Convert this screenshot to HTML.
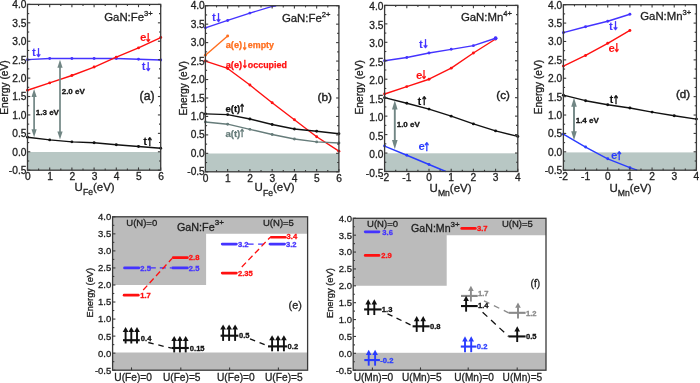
<!DOCTYPE html>
<html><head><meta charset="utf-8"><title>GaN energy levels</title>
<style>html,body{margin:0;padding:0;background:#fff;}svg{display:block;} text{paint-order:stroke;}</style></head>
<body><svg width="700" height="383" viewBox="0 0 700 383" font-family="'Liberation Sans', Arial, sans-serif">
<rect width="700" height="383" fill="#fff"/>
<rect x="27.5" y="152" width="133.2" height="18.2" fill="#b8c7c4"/>
<polyline points="27.5,59.67 49.7,58.56 71.9,58.56 94.1,58.56 116.3,58.56 138.5,59.3 160.7,60.04" fill="none" stroke="#4433ff" stroke-width="1.4" stroke-linejoin="round" />
<circle cx="27.5" cy="59.67" r="1.45" fill="#4433ff"/>
<circle cx="49.7" cy="58.56" r="1.45" fill="#4433ff"/>
<circle cx="71.9" cy="58.56" r="1.45" fill="#4433ff"/>
<circle cx="94.1" cy="58.56" r="1.45" fill="#4433ff"/>
<circle cx="116.3" cy="58.56" r="1.45" fill="#4433ff"/>
<circle cx="138.5" cy="59.3" r="1.45" fill="#4433ff"/>
<circle cx="160.7" cy="60.04" r="1.45" fill="#4433ff"/>
<polyline points="27.5,90.25 49.7,82.88 71.9,75.51 94.1,67.04 116.3,57.09 138.5,47.88 160.7,37.56" fill="none" stroke="#ff1010" stroke-width="1.4" stroke-linejoin="round" />
<circle cx="27.5" cy="90.25" r="1.45" fill="#ff1010"/>
<circle cx="49.7" cy="82.88" r="1.45" fill="#ff1010"/>
<circle cx="71.9" cy="75.51" r="1.45" fill="#ff1010"/>
<circle cx="94.1" cy="67.04" r="1.45" fill="#ff1010"/>
<circle cx="116.3" cy="57.09" r="1.45" fill="#ff1010"/>
<circle cx="138.5" cy="47.88" r="1.45" fill="#ff1010"/>
<circle cx="160.7" cy="37.56" r="1.45" fill="#ff1010"/>
<polyline points="27.5,137.22 49.7,139.91 71.9,141.83 94.1,142.82 116.3,144.7 138.5,146.51 160.7,148.2" fill="none" stroke="#111111" stroke-width="1.4" stroke-linejoin="round" />
<circle cx="27.5" cy="137.22" r="1.45" fill="#111111"/>
<circle cx="49.7" cy="139.91" r="1.45" fill="#111111"/>
<circle cx="71.9" cy="141.83" r="1.45" fill="#111111"/>
<circle cx="94.1" cy="142.82" r="1.45" fill="#111111"/>
<circle cx="116.3" cy="144.7" r="1.45" fill="#111111"/>
<circle cx="138.5" cy="146.51" r="1.45" fill="#111111"/>
<circle cx="160.7" cy="148.2" r="1.45" fill="#111111"/>
<line x1="34.1" y1="95.9" x2="34.1" y2="130.2" stroke="#718684" stroke-width="1.7" />
<path d="M34.1,88.9 L31.5,96.9 L36.7,96.9 Z" fill="#718684"/>
<path d="M34.1,137.2 L31.5,129.2 L36.7,129.2 Z" fill="#718684"/>
<line x1="60" y1="66.8" x2="60" y2="132.4" stroke="#718684" stroke-width="1.7" />
<path d="M60,59.8 L57.4,67.8 L62.6,67.8 Z" fill="#718684"/>
<path d="M60,139.4 L57.4,131.4 L62.6,131.4 Z" fill="#718684"/>
<rect x="27.5" y="4.4" width="133.2" height="165.8" fill="none" stroke="#3a3a3a" stroke-width="1.3"/>
<line x1="27.5" y1="170.2" x2="30.3" y2="170.2" stroke="#3a3a3a" stroke-width="1.1" />
<line x1="160.7" y1="170.2" x2="157.9" y2="170.2" stroke="#3a3a3a" stroke-width="1.1" />
<line x1="27.5" y1="160.99" x2="29.2" y2="160.99" stroke="#3a3a3a" stroke-width="1.1" />
<line x1="160.7" y1="160.99" x2="159" y2="160.99" stroke="#3a3a3a" stroke-width="1.1" />
<line x1="27.5" y1="151.78" x2="30.3" y2="151.78" stroke="#3a3a3a" stroke-width="1.1" />
<line x1="160.7" y1="151.78" x2="157.9" y2="151.78" stroke="#3a3a3a" stroke-width="1.1" />
<line x1="27.5" y1="142.57" x2="29.2" y2="142.57" stroke="#3a3a3a" stroke-width="1.1" />
<line x1="160.7" y1="142.57" x2="159" y2="142.57" stroke="#3a3a3a" stroke-width="1.1" />
<line x1="27.5" y1="133.36" x2="30.3" y2="133.36" stroke="#3a3a3a" stroke-width="1.1" />
<line x1="160.7" y1="133.36" x2="157.9" y2="133.36" stroke="#3a3a3a" stroke-width="1.1" />
<line x1="27.5" y1="124.14" x2="29.2" y2="124.14" stroke="#3a3a3a" stroke-width="1.1" />
<line x1="160.7" y1="124.14" x2="159" y2="124.14" stroke="#3a3a3a" stroke-width="1.1" />
<line x1="27.5" y1="114.93" x2="30.3" y2="114.93" stroke="#3a3a3a" stroke-width="1.1" />
<line x1="160.7" y1="114.93" x2="157.9" y2="114.93" stroke="#3a3a3a" stroke-width="1.1" />
<line x1="27.5" y1="105.72" x2="29.2" y2="105.72" stroke="#3a3a3a" stroke-width="1.1" />
<line x1="160.7" y1="105.72" x2="159" y2="105.72" stroke="#3a3a3a" stroke-width="1.1" />
<line x1="27.5" y1="96.51" x2="30.3" y2="96.51" stroke="#3a3a3a" stroke-width="1.1" />
<line x1="160.7" y1="96.51" x2="157.9" y2="96.51" stroke="#3a3a3a" stroke-width="1.1" />
<line x1="27.5" y1="87.3" x2="29.2" y2="87.3" stroke="#3a3a3a" stroke-width="1.1" />
<line x1="160.7" y1="87.3" x2="159" y2="87.3" stroke="#3a3a3a" stroke-width="1.1" />
<line x1="27.5" y1="78.09" x2="30.3" y2="78.09" stroke="#3a3a3a" stroke-width="1.1" />
<line x1="160.7" y1="78.09" x2="157.9" y2="78.09" stroke="#3a3a3a" stroke-width="1.1" />
<line x1="27.5" y1="68.88" x2="29.2" y2="68.88" stroke="#3a3a3a" stroke-width="1.1" />
<line x1="160.7" y1="68.88" x2="159" y2="68.88" stroke="#3a3a3a" stroke-width="1.1" />
<line x1="27.5" y1="59.67" x2="30.3" y2="59.67" stroke="#3a3a3a" stroke-width="1.1" />
<line x1="160.7" y1="59.67" x2="157.9" y2="59.67" stroke="#3a3a3a" stroke-width="1.1" />
<line x1="27.5" y1="50.46" x2="29.2" y2="50.46" stroke="#3a3a3a" stroke-width="1.1" />
<line x1="160.7" y1="50.46" x2="159" y2="50.46" stroke="#3a3a3a" stroke-width="1.1" />
<line x1="27.5" y1="41.24" x2="30.3" y2="41.24" stroke="#3a3a3a" stroke-width="1.1" />
<line x1="160.7" y1="41.24" x2="157.9" y2="41.24" stroke="#3a3a3a" stroke-width="1.1" />
<line x1="27.5" y1="32.03" x2="29.2" y2="32.03" stroke="#3a3a3a" stroke-width="1.1" />
<line x1="160.7" y1="32.03" x2="159" y2="32.03" stroke="#3a3a3a" stroke-width="1.1" />
<line x1="27.5" y1="22.82" x2="30.3" y2="22.82" stroke="#3a3a3a" stroke-width="1.1" />
<line x1="160.7" y1="22.82" x2="157.9" y2="22.82" stroke="#3a3a3a" stroke-width="1.1" />
<line x1="27.5" y1="13.61" x2="29.2" y2="13.61" stroke="#3a3a3a" stroke-width="1.1" />
<line x1="160.7" y1="13.61" x2="159" y2="13.61" stroke="#3a3a3a" stroke-width="1.1" />
<line x1="27.5" y1="4.4" x2="30.3" y2="4.4" stroke="#3a3a3a" stroke-width="1.1" />
<line x1="160.7" y1="4.4" x2="157.9" y2="4.4" stroke="#3a3a3a" stroke-width="1.1" />
<line x1="27.5" y1="170.2" x2="27.5" y2="167.4" stroke="#3a3a3a" stroke-width="1.1" />
<line x1="27.5" y1="4.4" x2="27.5" y2="7.2" stroke="#3a3a3a" stroke-width="1.1" />
<line x1="49.7" y1="170.2" x2="49.7" y2="167.4" stroke="#3a3a3a" stroke-width="1.1" />
<line x1="49.7" y1="4.4" x2="49.7" y2="7.2" stroke="#3a3a3a" stroke-width="1.1" />
<line x1="71.9" y1="170.2" x2="71.9" y2="167.4" stroke="#3a3a3a" stroke-width="1.1" />
<line x1="71.9" y1="4.4" x2="71.9" y2="7.2" stroke="#3a3a3a" stroke-width="1.1" />
<line x1="94.1" y1="170.2" x2="94.1" y2="167.4" stroke="#3a3a3a" stroke-width="1.1" />
<line x1="94.1" y1="4.4" x2="94.1" y2="7.2" stroke="#3a3a3a" stroke-width="1.1" />
<line x1="116.3" y1="170.2" x2="116.3" y2="167.4" stroke="#3a3a3a" stroke-width="1.1" />
<line x1="116.3" y1="4.4" x2="116.3" y2="7.2" stroke="#3a3a3a" stroke-width="1.1" />
<line x1="138.5" y1="170.2" x2="138.5" y2="167.4" stroke="#3a3a3a" stroke-width="1.1" />
<line x1="138.5" y1="4.4" x2="138.5" y2="7.2" stroke="#3a3a3a" stroke-width="1.1" />
<line x1="160.7" y1="170.2" x2="160.7" y2="167.4" stroke="#3a3a3a" stroke-width="1.1" />
<line x1="160.7" y1="4.4" x2="160.7" y2="7.2" stroke="#3a3a3a" stroke-width="1.1" />
<line x1="38.6" y1="170.2" x2="38.6" y2="168.5" stroke="#3a3a3a" stroke-width="1.1" />
<line x1="38.6" y1="4.4" x2="38.6" y2="6.1" stroke="#3a3a3a" stroke-width="1.1" />
<line x1="60.8" y1="170.2" x2="60.8" y2="168.5" stroke="#3a3a3a" stroke-width="1.1" />
<line x1="60.8" y1="4.4" x2="60.8" y2="6.1" stroke="#3a3a3a" stroke-width="1.1" />
<line x1="83" y1="170.2" x2="83" y2="168.5" stroke="#3a3a3a" stroke-width="1.1" />
<line x1="83" y1="4.4" x2="83" y2="6.1" stroke="#3a3a3a" stroke-width="1.1" />
<line x1="105.2" y1="170.2" x2="105.2" y2="168.5" stroke="#3a3a3a" stroke-width="1.1" />
<line x1="105.2" y1="4.4" x2="105.2" y2="6.1" stroke="#3a3a3a" stroke-width="1.1" />
<line x1="127.4" y1="170.2" x2="127.4" y2="168.5" stroke="#3a3a3a" stroke-width="1.1" />
<line x1="127.4" y1="4.4" x2="127.4" y2="6.1" stroke="#3a3a3a" stroke-width="1.1" />
<line x1="149.6" y1="170.2" x2="149.6" y2="168.5" stroke="#3a3a3a" stroke-width="1.1" />
<line x1="149.6" y1="4.4" x2="149.6" y2="6.1" stroke="#3a3a3a" stroke-width="1.1" />
<text x="26.4" y="174.1" font-size="10.2" text-anchor="end" font-weight="normal" fill="#1e1e1e" stroke="#1e1e1e" stroke-width="0.3" >-0.5</text>
<text x="26.4" y="155.68" font-size="10.2" text-anchor="end" font-weight="normal" fill="#1e1e1e" stroke="#1e1e1e" stroke-width="0.3" >0.0</text>
<text x="26.4" y="137.26" font-size="10.2" text-anchor="end" font-weight="normal" fill="#1e1e1e" stroke="#1e1e1e" stroke-width="0.3" >0.5</text>
<text x="26.4" y="118.83" font-size="10.2" text-anchor="end" font-weight="normal" fill="#1e1e1e" stroke="#1e1e1e" stroke-width="0.3" >1.0</text>
<text x="26.4" y="100.41" font-size="10.2" text-anchor="end" font-weight="normal" fill="#1e1e1e" stroke="#1e1e1e" stroke-width="0.3" >1.5</text>
<text x="26.4" y="81.99" font-size="10.2" text-anchor="end" font-weight="normal" fill="#1e1e1e" stroke="#1e1e1e" stroke-width="0.3" >2.0</text>
<text x="26.4" y="63.57" font-size="10.2" text-anchor="end" font-weight="normal" fill="#1e1e1e" stroke="#1e1e1e" stroke-width="0.3" >2.5</text>
<text x="26.4" y="45.14" font-size="10.2" text-anchor="end" font-weight="normal" fill="#1e1e1e" stroke="#1e1e1e" stroke-width="0.3" >3.0</text>
<text x="26.4" y="26.72" font-size="10.2" text-anchor="end" font-weight="normal" fill="#1e1e1e" stroke="#1e1e1e" stroke-width="0.3" >3.5</text>
<text x="26.4" y="8.3" font-size="10.2" text-anchor="end" font-weight="normal" fill="#1e1e1e" stroke="#1e1e1e" stroke-width="0.3" >4.0</text>
<text x="0" y="0" font-size="10.2" text-anchor="middle" fill="#1e1e1e" stroke="#1e1e1e" stroke-width="0.3" transform="translate(8.3,87.5) rotate(-90)">Energy (eV)</text>
<text x="27.9" y="179.6" font-size="10.2" text-anchor="middle" font-weight="normal" fill="#1e1e1e" stroke="#1e1e1e" stroke-width="0.3" >0</text>
<text x="50.1" y="179.6" font-size="10.2" text-anchor="middle" font-weight="normal" fill="#1e1e1e" stroke="#1e1e1e" stroke-width="0.3" >1</text>
<text x="72.3" y="179.6" font-size="10.2" text-anchor="middle" font-weight="normal" fill="#1e1e1e" stroke="#1e1e1e" stroke-width="0.3" >2</text>
<text x="94.5" y="179.6" font-size="10.2" text-anchor="middle" font-weight="normal" fill="#1e1e1e" stroke="#1e1e1e" stroke-width="0.3" >3</text>
<text x="116.7" y="179.6" font-size="10.2" text-anchor="middle" font-weight="normal" fill="#1e1e1e" stroke="#1e1e1e" stroke-width="0.3" >4</text>
<text x="138.9" y="179.6" font-size="10.2" text-anchor="middle" font-weight="normal" fill="#1e1e1e" stroke="#1e1e1e" stroke-width="0.3" >5</text>
<text x="161.1" y="179.6" font-size="10.2" text-anchor="middle" font-weight="normal" fill="#1e1e1e" stroke="#1e1e1e" stroke-width="0.3" >6</text>
<text x="74.6" y="190.8" font-size="11.5" fill="#1e1e1e" stroke="#1e1e1e" stroke-width="0.3">U<tspan font-size="8.6" dy="4.2">Fe</tspan><tspan dy="-4.2">(eV)</tspan></text>
<text x="104.2" y="21.1" font-size="11.4" fill="#1e1e1e" stroke="#1e1e1e" stroke-width="0.3">GaN:Fe<tspan font-size="7.6" dy="-5">3+</tspan></text>
<text x="139.6" y="100.4" font-size="12.2" text-anchor="start" font-weight="normal" fill="#1e1e1e" stroke="#1e1e1e" stroke-width="0.4">(a)</text>
<text x="61.7" y="93.6" font-size="8.0" text-anchor="start" font-weight="bold" fill="#111" stroke="#111" stroke-width="0.3" >2.0 eV</text>
<text x="35.8" y="114.7" font-size="8.0" text-anchor="start" font-weight="bold" fill="#111" stroke="#111" stroke-width="0.3" >1.3 eV</text>
<text x="32" y="56.4" font-size="11.5" font-weight="bold" fill="#4433ff">t</text>
<text x="0" y="0" font-family="DejaVu Sans" font-weight="bold" font-size="12" fill="#4433ff" stroke="#4433ff" stroke-width="0.35" text-anchor="middle" transform="translate(38.4,57.1) scale(0.72,1)">&#8595;</text>
<text x="141.8" y="70.3" font-size="11.5" font-weight="bold" fill="#4433ff">t</text>
<text x="0" y="0" font-family="DejaVu Sans" font-weight="bold" font-size="12" fill="#4433ff" stroke="#4433ff" stroke-width="0.35" text-anchor="middle" transform="translate(148.2,71) scale(0.72,1)">&#8595;</text>
<text x="140" y="40.8" font-size="11.5" font-weight="bold" fill="#ff1010">e</text>
<text x="0" y="0" font-family="DejaVu Sans" font-weight="bold" font-size="12" fill="#ff1010" stroke="#ff1010" stroke-width="0.35" text-anchor="middle" transform="translate(148,41.5) scale(0.72,1)">&#8595;</text>
<text x="143.2" y="145.1" font-size="11.5" font-weight="bold" fill="#111111">t</text>
<text x="0" y="0" font-family="DejaVu Sans" font-weight="bold" font-size="12" fill="#111111" stroke="#111111" stroke-width="0.35" text-anchor="middle" transform="translate(149.6,145.8) scale(0.72,1)">&#8593;</text>
<rect x="205.4" y="153.5" width="133.5" height="18.3" fill="#b8c7c4"/>
<polyline points="205.4,27.85 227.65,20.46 249.9,13.08 272.15,6.44 276.15,5.7" fill="none" stroke="#4433ff" stroke-width="1.4" stroke-linejoin="round" />
<circle cx="205.4" cy="27.85" r="1.45" fill="#4433ff"/>
<circle cx="227.65" cy="20.46" r="1.45" fill="#4433ff"/>
<circle cx="249.9" cy="13.08" r="1.45" fill="#4433ff"/>
<polyline points="205.4,55.16 227.65,35.97" fill="none" stroke="#ff6e1e" stroke-width="1.4" stroke-linejoin="round" />
<circle cx="205.4" cy="55.16" r="1.45" fill="#ff6e1e"/>
<circle cx="227.65" cy="35.97" r="1.45" fill="#ff6e1e"/>
<polyline points="205.4,61.07 227.65,68.45 249.9,85.06 272.15,102.78 294.4,119.76 316.65,136.73 338.9,151.13" fill="none" stroke="#ff1010" stroke-width="1.4" stroke-linejoin="round" />
<circle cx="205.4" cy="61.07" r="1.45" fill="#ff1010"/>
<circle cx="227.65" cy="68.45" r="1.45" fill="#ff1010"/>
<circle cx="249.9" cy="85.06" r="1.45" fill="#ff1010"/>
<circle cx="272.15" cy="102.78" r="1.45" fill="#ff1010"/>
<circle cx="294.4" cy="119.76" r="1.45" fill="#ff1010"/>
<circle cx="316.65" cy="136.73" r="1.45" fill="#ff1010"/>
<circle cx="338.9" cy="151.13" r="1.45" fill="#ff1010"/>
<polyline points="205.4,113.85 227.65,114.59 249.9,119.02 272.15,124.55 294.4,128.98 316.65,131.2 338.9,133.78" fill="none" stroke="#111111" stroke-width="1.4" stroke-linejoin="round" />
<circle cx="205.4" cy="113.85" r="1.45" fill="#111111"/>
<circle cx="227.65" cy="114.59" r="1.45" fill="#111111"/>
<circle cx="249.9" cy="119.02" r="1.45" fill="#111111"/>
<circle cx="272.15" cy="124.55" r="1.45" fill="#111111"/>
<circle cx="294.4" cy="128.98" r="1.45" fill="#111111"/>
<circle cx="316.65" cy="131.2" r="1.45" fill="#111111"/>
<circle cx="338.9" cy="133.78" r="1.45" fill="#111111"/>
<polyline points="205.4,121.97 227.65,124.18 249.9,129.35 272.15,134.52 294.4,138.95 316.65,141.9 338.9,143.01" fill="none" stroke="#667c7a" stroke-width="1.4" stroke-linejoin="round" />
<circle cx="205.4" cy="121.97" r="1.45" fill="#667c7a"/>
<circle cx="227.65" cy="124.18" r="1.45" fill="#667c7a"/>
<circle cx="249.9" cy="129.35" r="1.45" fill="#667c7a"/>
<circle cx="272.15" cy="134.52" r="1.45" fill="#667c7a"/>
<circle cx="294.4" cy="138.95" r="1.45" fill="#667c7a"/>
<circle cx="316.65" cy="141.9" r="1.45" fill="#667c7a"/>
<circle cx="338.9" cy="143.01" r="1.45" fill="#667c7a"/>
<rect x="205.4" y="5.7" width="133.5" height="166.1" fill="none" stroke="#3a3a3a" stroke-width="1.3"/>
<line x1="205.4" y1="171.8" x2="208.2" y2="171.8" stroke="#3a3a3a" stroke-width="1.1" />
<line x1="338.9" y1="171.8" x2="336.1" y2="171.8" stroke="#3a3a3a" stroke-width="1.1" />
<line x1="205.4" y1="162.57" x2="207.1" y2="162.57" stroke="#3a3a3a" stroke-width="1.1" />
<line x1="338.9" y1="162.57" x2="337.2" y2="162.57" stroke="#3a3a3a" stroke-width="1.1" />
<line x1="205.4" y1="153.34" x2="208.2" y2="153.34" stroke="#3a3a3a" stroke-width="1.1" />
<line x1="338.9" y1="153.34" x2="336.1" y2="153.34" stroke="#3a3a3a" stroke-width="1.1" />
<line x1="205.4" y1="144.12" x2="207.1" y2="144.12" stroke="#3a3a3a" stroke-width="1.1" />
<line x1="338.9" y1="144.12" x2="337.2" y2="144.12" stroke="#3a3a3a" stroke-width="1.1" />
<line x1="205.4" y1="134.89" x2="208.2" y2="134.89" stroke="#3a3a3a" stroke-width="1.1" />
<line x1="338.9" y1="134.89" x2="336.1" y2="134.89" stroke="#3a3a3a" stroke-width="1.1" />
<line x1="205.4" y1="125.66" x2="207.1" y2="125.66" stroke="#3a3a3a" stroke-width="1.1" />
<line x1="338.9" y1="125.66" x2="337.2" y2="125.66" stroke="#3a3a3a" stroke-width="1.1" />
<line x1="205.4" y1="116.43" x2="208.2" y2="116.43" stroke="#3a3a3a" stroke-width="1.1" />
<line x1="338.9" y1="116.43" x2="336.1" y2="116.43" stroke="#3a3a3a" stroke-width="1.1" />
<line x1="205.4" y1="107.21" x2="207.1" y2="107.21" stroke="#3a3a3a" stroke-width="1.1" />
<line x1="338.9" y1="107.21" x2="337.2" y2="107.21" stroke="#3a3a3a" stroke-width="1.1" />
<line x1="205.4" y1="97.98" x2="208.2" y2="97.98" stroke="#3a3a3a" stroke-width="1.1" />
<line x1="338.9" y1="97.98" x2="336.1" y2="97.98" stroke="#3a3a3a" stroke-width="1.1" />
<line x1="205.4" y1="88.75" x2="207.1" y2="88.75" stroke="#3a3a3a" stroke-width="1.1" />
<line x1="338.9" y1="88.75" x2="337.2" y2="88.75" stroke="#3a3a3a" stroke-width="1.1" />
<line x1="205.4" y1="79.52" x2="208.2" y2="79.52" stroke="#3a3a3a" stroke-width="1.1" />
<line x1="338.9" y1="79.52" x2="336.1" y2="79.52" stroke="#3a3a3a" stroke-width="1.1" />
<line x1="205.4" y1="70.29" x2="207.1" y2="70.29" stroke="#3a3a3a" stroke-width="1.1" />
<line x1="338.9" y1="70.29" x2="337.2" y2="70.29" stroke="#3a3a3a" stroke-width="1.1" />
<line x1="205.4" y1="61.07" x2="208.2" y2="61.07" stroke="#3a3a3a" stroke-width="1.1" />
<line x1="338.9" y1="61.07" x2="336.1" y2="61.07" stroke="#3a3a3a" stroke-width="1.1" />
<line x1="205.4" y1="51.84" x2="207.1" y2="51.84" stroke="#3a3a3a" stroke-width="1.1" />
<line x1="338.9" y1="51.84" x2="337.2" y2="51.84" stroke="#3a3a3a" stroke-width="1.1" />
<line x1="205.4" y1="42.61" x2="208.2" y2="42.61" stroke="#3a3a3a" stroke-width="1.1" />
<line x1="338.9" y1="42.61" x2="336.1" y2="42.61" stroke="#3a3a3a" stroke-width="1.1" />
<line x1="205.4" y1="33.38" x2="207.1" y2="33.38" stroke="#3a3a3a" stroke-width="1.1" />
<line x1="338.9" y1="33.38" x2="337.2" y2="33.38" stroke="#3a3a3a" stroke-width="1.1" />
<line x1="205.4" y1="24.16" x2="208.2" y2="24.16" stroke="#3a3a3a" stroke-width="1.1" />
<line x1="338.9" y1="24.16" x2="336.1" y2="24.16" stroke="#3a3a3a" stroke-width="1.1" />
<line x1="205.4" y1="14.93" x2="207.1" y2="14.93" stroke="#3a3a3a" stroke-width="1.1" />
<line x1="338.9" y1="14.93" x2="337.2" y2="14.93" stroke="#3a3a3a" stroke-width="1.1" />
<line x1="205.4" y1="5.7" x2="208.2" y2="5.7" stroke="#3a3a3a" stroke-width="1.1" />
<line x1="338.9" y1="5.7" x2="336.1" y2="5.7" stroke="#3a3a3a" stroke-width="1.1" />
<line x1="205.4" y1="171.8" x2="205.4" y2="169" stroke="#3a3a3a" stroke-width="1.1" />
<line x1="205.4" y1="5.7" x2="205.4" y2="8.5" stroke="#3a3a3a" stroke-width="1.1" />
<line x1="227.65" y1="171.8" x2="227.65" y2="169" stroke="#3a3a3a" stroke-width="1.1" />
<line x1="227.65" y1="5.7" x2="227.65" y2="8.5" stroke="#3a3a3a" stroke-width="1.1" />
<line x1="249.9" y1="171.8" x2="249.9" y2="169" stroke="#3a3a3a" stroke-width="1.1" />
<line x1="249.9" y1="5.7" x2="249.9" y2="8.5" stroke="#3a3a3a" stroke-width="1.1" />
<line x1="272.15" y1="171.8" x2="272.15" y2="169" stroke="#3a3a3a" stroke-width="1.1" />
<line x1="272.15" y1="5.7" x2="272.15" y2="8.5" stroke="#3a3a3a" stroke-width="1.1" />
<line x1="294.4" y1="171.8" x2="294.4" y2="169" stroke="#3a3a3a" stroke-width="1.1" />
<line x1="294.4" y1="5.7" x2="294.4" y2="8.5" stroke="#3a3a3a" stroke-width="1.1" />
<line x1="316.65" y1="171.8" x2="316.65" y2="169" stroke="#3a3a3a" stroke-width="1.1" />
<line x1="316.65" y1="5.7" x2="316.65" y2="8.5" stroke="#3a3a3a" stroke-width="1.1" />
<line x1="338.9" y1="171.8" x2="338.9" y2="169" stroke="#3a3a3a" stroke-width="1.1" />
<line x1="338.9" y1="5.7" x2="338.9" y2="8.5" stroke="#3a3a3a" stroke-width="1.1" />
<line x1="216.53" y1="171.8" x2="216.53" y2="170.1" stroke="#3a3a3a" stroke-width="1.1" />
<line x1="216.53" y1="5.7" x2="216.53" y2="7.4" stroke="#3a3a3a" stroke-width="1.1" />
<line x1="238.78" y1="171.8" x2="238.78" y2="170.1" stroke="#3a3a3a" stroke-width="1.1" />
<line x1="238.78" y1="5.7" x2="238.78" y2="7.4" stroke="#3a3a3a" stroke-width="1.1" />
<line x1="261.02" y1="171.8" x2="261.02" y2="170.1" stroke="#3a3a3a" stroke-width="1.1" />
<line x1="261.02" y1="5.7" x2="261.02" y2="7.4" stroke="#3a3a3a" stroke-width="1.1" />
<line x1="283.27" y1="171.8" x2="283.27" y2="170.1" stroke="#3a3a3a" stroke-width="1.1" />
<line x1="283.27" y1="5.7" x2="283.27" y2="7.4" stroke="#3a3a3a" stroke-width="1.1" />
<line x1="305.52" y1="171.8" x2="305.52" y2="170.1" stroke="#3a3a3a" stroke-width="1.1" />
<line x1="305.52" y1="5.7" x2="305.52" y2="7.4" stroke="#3a3a3a" stroke-width="1.1" />
<line x1="327.77" y1="171.8" x2="327.77" y2="170.1" stroke="#3a3a3a" stroke-width="1.1" />
<line x1="327.77" y1="5.7" x2="327.77" y2="7.4" stroke="#3a3a3a" stroke-width="1.1" />
<text x="204.8" y="175.4" font-size="10.2" text-anchor="end" font-weight="normal" fill="#1e1e1e" stroke="#1e1e1e" stroke-width="0.3" >-0.5</text>
<text x="204.8" y="156.94" font-size="10.2" text-anchor="end" font-weight="normal" fill="#1e1e1e" stroke="#1e1e1e" stroke-width="0.3" >0.0</text>
<text x="204.8" y="138.49" font-size="10.2" text-anchor="end" font-weight="normal" fill="#1e1e1e" stroke="#1e1e1e" stroke-width="0.3" >0.5</text>
<text x="204.8" y="120.03" font-size="10.2" text-anchor="end" font-weight="normal" fill="#1e1e1e" stroke="#1e1e1e" stroke-width="0.3" >1.0</text>
<text x="204.8" y="101.58" font-size="10.2" text-anchor="end" font-weight="normal" fill="#1e1e1e" stroke="#1e1e1e" stroke-width="0.3" >1.5</text>
<text x="204.8" y="83.12" font-size="10.2" text-anchor="end" font-weight="normal" fill="#1e1e1e" stroke="#1e1e1e" stroke-width="0.3" >2.0</text>
<text x="204.8" y="64.67" font-size="10.2" text-anchor="end" font-weight="normal" fill="#1e1e1e" stroke="#1e1e1e" stroke-width="0.3" >2.5</text>
<text x="204.8" y="46.21" font-size="10.2" text-anchor="end" font-weight="normal" fill="#1e1e1e" stroke="#1e1e1e" stroke-width="0.3" >3.0</text>
<text x="204.8" y="27.76" font-size="10.2" text-anchor="end" font-weight="normal" fill="#1e1e1e" stroke="#1e1e1e" stroke-width="0.3" >3.5</text>
<text x="204.8" y="9.3" font-size="10.2" text-anchor="end" font-weight="normal" fill="#1e1e1e" stroke="#1e1e1e" stroke-width="0.3" >4.0</text>
<text x="0" y="0" font-size="10.2" text-anchor="middle" fill="#1e1e1e" stroke="#1e1e1e" stroke-width="0.3" transform="translate(186.6,88.3) rotate(-90)">Energy (eV)</text>
<text x="205.7" y="182.1" font-size="10.2" text-anchor="middle" font-weight="normal" fill="#1e1e1e" stroke="#1e1e1e" stroke-width="0.3" >0</text>
<text x="227.95" y="182.1" font-size="10.2" text-anchor="middle" font-weight="normal" fill="#1e1e1e" stroke="#1e1e1e" stroke-width="0.3" >1</text>
<text x="250.2" y="182.1" font-size="10.2" text-anchor="middle" font-weight="normal" fill="#1e1e1e" stroke="#1e1e1e" stroke-width="0.3" >2</text>
<text x="272.45" y="182.1" font-size="10.2" text-anchor="middle" font-weight="normal" fill="#1e1e1e" stroke="#1e1e1e" stroke-width="0.3" >3</text>
<text x="294.7" y="182.1" font-size="10.2" text-anchor="middle" font-weight="normal" fill="#1e1e1e" stroke="#1e1e1e" stroke-width="0.3" >4</text>
<text x="316.95" y="182.1" font-size="10.2" text-anchor="middle" font-weight="normal" fill="#1e1e1e" stroke="#1e1e1e" stroke-width="0.3" >5</text>
<text x="339.2" y="182.1" font-size="10.2" text-anchor="middle" font-weight="normal" fill="#1e1e1e" stroke="#1e1e1e" stroke-width="0.3" >6</text>
<text x="254.6" y="191.3" font-size="11.5" fill="#1e1e1e" stroke="#1e1e1e" stroke-width="0.3">U<tspan font-size="8.6" dy="4.2">Fe</tspan><tspan dy="-4.2">(eV)</tspan></text>
<text x="281.9" y="21.9" font-size="11.4" fill="#1e1e1e" stroke="#1e1e1e" stroke-width="0.3">GaN:Fe<tspan font-size="7.6" dy="-5">2+</tspan></text>
<text x="317.6" y="101.1" font-size="11.8" text-anchor="start" font-weight="normal" fill="#1e1e1e" stroke="#1e1e1e" stroke-width="0.4">(b)</text>
<text x="212" y="21" font-size="11.5" font-weight="bold" fill="#4433ff">t</text>
<text x="0" y="0" font-family="DejaVu Sans" font-weight="bold" font-size="12" fill="#4433ff" stroke="#4433ff" stroke-width="0.35" text-anchor="middle" transform="translate(218.4,21.7) scale(0.72,1)">&#8595;</text>
<text x="225.7" y="47.7" font-size="9.3" font-weight="bold" fill="#ff6e1e" stroke="#ff6e1e" stroke-width="0.25">a(e)<tspan dx="5.6" font-size="8.9">empty</tspan></text>
<text x="0" y="0" font-family="DejaVu Sans" font-weight="bold" font-size="10.5" fill="#ff6e1e" stroke="#ff6e1e" stroke-width="0.35" text-anchor="middle" transform="translate(244.7,49.6) scale(0.72,1)">&#8595;</text>
<text x="225.7" y="67.7" font-size="9.3" font-weight="bold" fill="#ff1010" stroke="#ff1010" stroke-width="0.25">a(e)<tspan dx="5.6" font-size="8.9">occupied</tspan></text>
<text x="0" y="0" font-family="DejaVu Sans" font-weight="bold" font-size="11" fill="#ff1010" stroke="#ff1010" stroke-width="0.35" text-anchor="middle" transform="translate(244.7,67.9) scale(0.72,1)">&#8595;</text>
<text x="225.4" y="111.6" font-size="9.6" font-weight="bold" fill="#111111" stroke="#111111" stroke-width="0.25">e(t)</text>
<text x="0" y="0" font-family="DejaVu Sans" font-weight="bold" font-size="11.2" fill="#111111" stroke="#111111" stroke-width="0.35" text-anchor="middle" transform="translate(242.1,112) scale(0.72,1)">&#8593;</text>
<text x="225.4" y="137" font-size="9.6" font-weight="bold" fill="#667c7a" stroke="#667c7a" stroke-width="0.25">a(t)</text>
<text x="0" y="0" font-family="DejaVu Sans" font-weight="bold" font-size="11.2" fill="#667c7a" stroke="#667c7a" stroke-width="0.35" text-anchor="middle" transform="translate(242.1,137.4) scale(0.72,1)">&#8593;</text>
<rect x="384.6" y="153.3" width="133.2" height="18.2" fill="#b8c7c4"/>
<polyline points="384.6,93.99 406.8,86.6 429,79.22 451.2,68.15 473.4,53.02 495.6,38.99" fill="none" stroke="#ff1010" stroke-width="1.4" stroke-linejoin="round" />
<circle cx="384.6" cy="93.99" r="1.45" fill="#ff1010"/>
<circle cx="406.8" cy="86.6" r="1.45" fill="#ff1010"/>
<circle cx="429" cy="79.22" r="1.45" fill="#ff1010"/>
<circle cx="451.2" cy="68.15" r="1.45" fill="#ff1010"/>
<circle cx="473.4" cy="53.02" r="1.45" fill="#ff1010"/>
<circle cx="495.6" cy="38.99" r="1.45" fill="#ff1010"/>
<polyline points="384.6,60.77 406.8,57.44 429,53.02 451.2,49.32 473.4,45.63 495.6,38.25" fill="none" stroke="#4433ff" stroke-width="1.4" stroke-linejoin="round" />
<circle cx="384.6" cy="60.77" r="1.45" fill="#4433ff"/>
<circle cx="406.8" cy="57.44" r="1.45" fill="#4433ff"/>
<circle cx="429" cy="53.02" r="1.45" fill="#4433ff"/>
<circle cx="451.2" cy="49.32" r="1.45" fill="#4433ff"/>
<circle cx="473.4" cy="45.63" r="1.45" fill="#4433ff"/>
<circle cx="495.6" cy="38.25" r="1.45" fill="#4433ff"/>
<circle cx="495.6" cy="38.25" r="1.9" fill="#4433ff"/>
<polyline points="384.6,97.68 406.8,103.21 429,109.12 451.2,116.13 473.4,123.88 495.6,130.9 517.8,136.43" fill="none" stroke="#111111" stroke-width="1.4" stroke-linejoin="round" />
<circle cx="384.6" cy="97.68" r="1.45" fill="#111111"/>
<circle cx="406.8" cy="103.21" r="1.45" fill="#111111"/>
<circle cx="429" cy="109.12" r="1.45" fill="#111111"/>
<circle cx="451.2" cy="116.13" r="1.45" fill="#111111"/>
<circle cx="473.4" cy="123.88" r="1.45" fill="#111111"/>
<circle cx="495.6" cy="130.9" r="1.45" fill="#111111"/>
<circle cx="517.8" cy="136.43" r="1.45" fill="#111111"/>
<polyline points="384.6,146.03 406.8,155.26 429,164.49 445.87,171.5" fill="none" stroke="#2a3cff" stroke-width="1.4" stroke-linejoin="round" />
<circle cx="384.6" cy="146.03" r="1.45" fill="#2a3cff"/>
<circle cx="406.8" cy="155.26" r="1.45" fill="#2a3cff"/>
<circle cx="429" cy="164.49" r="1.45" fill="#2a3cff"/>
<line x1="394.8" y1="108.5" x2="394.8" y2="141.1" stroke="#718684" stroke-width="1.9" />
<path d="M394.8,100.3 L392,109.5 L397.6,109.5 Z" fill="#718684"/>
<path d="M394.8,149.3 L392,140.1 L397.6,140.1 Z" fill="#718684"/>
<rect x="384.6" y="5.4" width="133.2" height="166.1" fill="none" stroke="#3a3a3a" stroke-width="1.3"/>
<line x1="384.6" y1="171.5" x2="387.4" y2="171.5" stroke="#3a3a3a" stroke-width="1.1" />
<line x1="517.8" y1="171.5" x2="515" y2="171.5" stroke="#3a3a3a" stroke-width="1.1" />
<line x1="384.6" y1="162.27" x2="386.3" y2="162.27" stroke="#3a3a3a" stroke-width="1.1" />
<line x1="517.8" y1="162.27" x2="516.1" y2="162.27" stroke="#3a3a3a" stroke-width="1.1" />
<line x1="384.6" y1="153.04" x2="387.4" y2="153.04" stroke="#3a3a3a" stroke-width="1.1" />
<line x1="517.8" y1="153.04" x2="515" y2="153.04" stroke="#3a3a3a" stroke-width="1.1" />
<line x1="384.6" y1="143.82" x2="386.3" y2="143.82" stroke="#3a3a3a" stroke-width="1.1" />
<line x1="517.8" y1="143.82" x2="516.1" y2="143.82" stroke="#3a3a3a" stroke-width="1.1" />
<line x1="384.6" y1="134.59" x2="387.4" y2="134.59" stroke="#3a3a3a" stroke-width="1.1" />
<line x1="517.8" y1="134.59" x2="515" y2="134.59" stroke="#3a3a3a" stroke-width="1.1" />
<line x1="384.6" y1="125.36" x2="386.3" y2="125.36" stroke="#3a3a3a" stroke-width="1.1" />
<line x1="517.8" y1="125.36" x2="516.1" y2="125.36" stroke="#3a3a3a" stroke-width="1.1" />
<line x1="384.6" y1="116.13" x2="387.4" y2="116.13" stroke="#3a3a3a" stroke-width="1.1" />
<line x1="517.8" y1="116.13" x2="515" y2="116.13" stroke="#3a3a3a" stroke-width="1.1" />
<line x1="384.6" y1="106.91" x2="386.3" y2="106.91" stroke="#3a3a3a" stroke-width="1.1" />
<line x1="517.8" y1="106.91" x2="516.1" y2="106.91" stroke="#3a3a3a" stroke-width="1.1" />
<line x1="384.6" y1="97.68" x2="387.4" y2="97.68" stroke="#3a3a3a" stroke-width="1.1" />
<line x1="517.8" y1="97.68" x2="515" y2="97.68" stroke="#3a3a3a" stroke-width="1.1" />
<line x1="384.6" y1="88.45" x2="386.3" y2="88.45" stroke="#3a3a3a" stroke-width="1.1" />
<line x1="517.8" y1="88.45" x2="516.1" y2="88.45" stroke="#3a3a3a" stroke-width="1.1" />
<line x1="384.6" y1="79.22" x2="387.4" y2="79.22" stroke="#3a3a3a" stroke-width="1.1" />
<line x1="517.8" y1="79.22" x2="515" y2="79.22" stroke="#3a3a3a" stroke-width="1.1" />
<line x1="384.6" y1="69.99" x2="386.3" y2="69.99" stroke="#3a3a3a" stroke-width="1.1" />
<line x1="517.8" y1="69.99" x2="516.1" y2="69.99" stroke="#3a3a3a" stroke-width="1.1" />
<line x1="384.6" y1="60.77" x2="387.4" y2="60.77" stroke="#3a3a3a" stroke-width="1.1" />
<line x1="517.8" y1="60.77" x2="515" y2="60.77" stroke="#3a3a3a" stroke-width="1.1" />
<line x1="384.6" y1="51.54" x2="386.3" y2="51.54" stroke="#3a3a3a" stroke-width="1.1" />
<line x1="517.8" y1="51.54" x2="516.1" y2="51.54" stroke="#3a3a3a" stroke-width="1.1" />
<line x1="384.6" y1="42.31" x2="387.4" y2="42.31" stroke="#3a3a3a" stroke-width="1.1" />
<line x1="517.8" y1="42.31" x2="515" y2="42.31" stroke="#3a3a3a" stroke-width="1.1" />
<line x1="384.6" y1="33.08" x2="386.3" y2="33.08" stroke="#3a3a3a" stroke-width="1.1" />
<line x1="517.8" y1="33.08" x2="516.1" y2="33.08" stroke="#3a3a3a" stroke-width="1.1" />
<line x1="384.6" y1="23.86" x2="387.4" y2="23.86" stroke="#3a3a3a" stroke-width="1.1" />
<line x1="517.8" y1="23.86" x2="515" y2="23.86" stroke="#3a3a3a" stroke-width="1.1" />
<line x1="384.6" y1="14.63" x2="386.3" y2="14.63" stroke="#3a3a3a" stroke-width="1.1" />
<line x1="517.8" y1="14.63" x2="516.1" y2="14.63" stroke="#3a3a3a" stroke-width="1.1" />
<line x1="384.6" y1="5.4" x2="387.4" y2="5.4" stroke="#3a3a3a" stroke-width="1.1" />
<line x1="517.8" y1="5.4" x2="515" y2="5.4" stroke="#3a3a3a" stroke-width="1.1" />
<line x1="384.6" y1="171.5" x2="384.6" y2="168.7" stroke="#3a3a3a" stroke-width="1.1" />
<line x1="384.6" y1="5.4" x2="384.6" y2="8.2" stroke="#3a3a3a" stroke-width="1.1" />
<line x1="406.8" y1="171.5" x2="406.8" y2="168.7" stroke="#3a3a3a" stroke-width="1.1" />
<line x1="406.8" y1="5.4" x2="406.8" y2="8.2" stroke="#3a3a3a" stroke-width="1.1" />
<line x1="429" y1="171.5" x2="429" y2="168.7" stroke="#3a3a3a" stroke-width="1.1" />
<line x1="429" y1="5.4" x2="429" y2="8.2" stroke="#3a3a3a" stroke-width="1.1" />
<line x1="451.2" y1="171.5" x2="451.2" y2="168.7" stroke="#3a3a3a" stroke-width="1.1" />
<line x1="451.2" y1="5.4" x2="451.2" y2="8.2" stroke="#3a3a3a" stroke-width="1.1" />
<line x1="473.4" y1="171.5" x2="473.4" y2="168.7" stroke="#3a3a3a" stroke-width="1.1" />
<line x1="473.4" y1="5.4" x2="473.4" y2="8.2" stroke="#3a3a3a" stroke-width="1.1" />
<line x1="495.6" y1="171.5" x2="495.6" y2="168.7" stroke="#3a3a3a" stroke-width="1.1" />
<line x1="495.6" y1="5.4" x2="495.6" y2="8.2" stroke="#3a3a3a" stroke-width="1.1" />
<line x1="517.8" y1="171.5" x2="517.8" y2="168.7" stroke="#3a3a3a" stroke-width="1.1" />
<line x1="517.8" y1="5.4" x2="517.8" y2="8.2" stroke="#3a3a3a" stroke-width="1.1" />
<line x1="395.7" y1="171.5" x2="395.7" y2="169.8" stroke="#3a3a3a" stroke-width="1.1" />
<line x1="395.7" y1="5.4" x2="395.7" y2="7.1" stroke="#3a3a3a" stroke-width="1.1" />
<line x1="417.9" y1="171.5" x2="417.9" y2="169.8" stroke="#3a3a3a" stroke-width="1.1" />
<line x1="417.9" y1="5.4" x2="417.9" y2="7.1" stroke="#3a3a3a" stroke-width="1.1" />
<line x1="440.1" y1="171.5" x2="440.1" y2="169.8" stroke="#3a3a3a" stroke-width="1.1" />
<line x1="440.1" y1="5.4" x2="440.1" y2="7.1" stroke="#3a3a3a" stroke-width="1.1" />
<line x1="462.3" y1="171.5" x2="462.3" y2="169.8" stroke="#3a3a3a" stroke-width="1.1" />
<line x1="462.3" y1="5.4" x2="462.3" y2="7.1" stroke="#3a3a3a" stroke-width="1.1" />
<line x1="484.5" y1="171.5" x2="484.5" y2="169.8" stroke="#3a3a3a" stroke-width="1.1" />
<line x1="484.5" y1="5.4" x2="484.5" y2="7.1" stroke="#3a3a3a" stroke-width="1.1" />
<line x1="506.7" y1="171.5" x2="506.7" y2="169.8" stroke="#3a3a3a" stroke-width="1.1" />
<line x1="506.7" y1="5.4" x2="506.7" y2="7.1" stroke="#3a3a3a" stroke-width="1.1" />
<text x="383.4" y="176.5" font-size="10.2" text-anchor="end" font-weight="normal" fill="#1e1e1e" stroke="#1e1e1e" stroke-width="0.3" >-0.5</text>
<text x="383.4" y="158.04" font-size="10.2" text-anchor="end" font-weight="normal" fill="#1e1e1e" stroke="#1e1e1e" stroke-width="0.3" >0.0</text>
<text x="383.4" y="139.59" font-size="10.2" text-anchor="end" font-weight="normal" fill="#1e1e1e" stroke="#1e1e1e" stroke-width="0.3" >0.5</text>
<text x="383.4" y="121.13" font-size="10.2" text-anchor="end" font-weight="normal" fill="#1e1e1e" stroke="#1e1e1e" stroke-width="0.3" >1.0</text>
<text x="383.4" y="102.68" font-size="10.2" text-anchor="end" font-weight="normal" fill="#1e1e1e" stroke="#1e1e1e" stroke-width="0.3" >1.5</text>
<text x="383.4" y="84.22" font-size="10.2" text-anchor="end" font-weight="normal" fill="#1e1e1e" stroke="#1e1e1e" stroke-width="0.3" >2.0</text>
<text x="383.4" y="65.77" font-size="10.2" text-anchor="end" font-weight="normal" fill="#1e1e1e" stroke="#1e1e1e" stroke-width="0.3" >2.5</text>
<text x="383.4" y="47.31" font-size="10.2" text-anchor="end" font-weight="normal" fill="#1e1e1e" stroke="#1e1e1e" stroke-width="0.3" >3.0</text>
<text x="383.4" y="28.86" font-size="10.2" text-anchor="end" font-weight="normal" fill="#1e1e1e" stroke="#1e1e1e" stroke-width="0.3" >3.5</text>
<text x="383.4" y="10.4" font-size="10.2" text-anchor="end" font-weight="normal" fill="#1e1e1e" stroke="#1e1e1e" stroke-width="0.3" >4.0</text>
<text x="0" y="0" font-size="10.2" text-anchor="middle" fill="#1e1e1e" stroke="#1e1e1e" stroke-width="0.3" transform="translate(363.3,87.3) rotate(-90)">Energy (eV)</text>
<text x="384.6" y="181.2" font-size="10.2" text-anchor="middle" font-weight="normal" fill="#1e1e1e" stroke="#1e1e1e" stroke-width="0.3" >-2</text>
<text x="406.8" y="181.2" font-size="10.2" text-anchor="middle" font-weight="normal" fill="#1e1e1e" stroke="#1e1e1e" stroke-width="0.3" >-1</text>
<text x="429" y="181.2" font-size="10.2" text-anchor="middle" font-weight="normal" fill="#1e1e1e" stroke="#1e1e1e" stroke-width="0.3" >0</text>
<text x="451.2" y="181.2" font-size="10.2" text-anchor="middle" font-weight="normal" fill="#1e1e1e" stroke="#1e1e1e" stroke-width="0.3" >1</text>
<text x="473.4" y="181.2" font-size="10.2" text-anchor="middle" font-weight="normal" fill="#1e1e1e" stroke="#1e1e1e" stroke-width="0.3" >2</text>
<text x="495.6" y="181.2" font-size="10.2" text-anchor="middle" font-weight="normal" fill="#1e1e1e" stroke="#1e1e1e" stroke-width="0.3" >3</text>
<text x="517.8" y="181.2" font-size="10.2" text-anchor="middle" font-weight="normal" fill="#1e1e1e" stroke="#1e1e1e" stroke-width="0.3" >4</text>
<text x="429.6" y="192.1" font-size="11.5" fill="#1e1e1e" stroke="#1e1e1e" stroke-width="0.3">U<tspan font-size="8.6" dy="4.2">Mn</tspan><tspan dy="-4.2">(eV)</tspan></text>
<text x="460.9" y="20.7" font-size="11.4" fill="#1e1e1e" stroke="#1e1e1e" stroke-width="0.3">GaN:Mn<tspan font-size="7.6" dy="-5">4+</tspan></text>
<text x="496.3" y="99.2" font-size="11.6" text-anchor="start" font-weight="normal" fill="#1e1e1e" stroke="#1e1e1e" stroke-width="0.4">(c)</text>
<text x="396.7" y="127" font-size="8.0" text-anchor="start" font-weight="bold" fill="#111" stroke="#111" stroke-width="0.3" >1.0 eV</text>
<text x="419" y="47.5" font-size="11.5" font-weight="bold" fill="#4433ff">t</text>
<text x="0" y="0" font-family="DejaVu Sans" font-weight="bold" font-size="12" fill="#4433ff" stroke="#4433ff" stroke-width="0.35" text-anchor="middle" transform="translate(425.4,48.2) scale(0.72,1)">&#8595;</text>
<text x="415.9" y="78.7" font-size="11.5" font-weight="bold" fill="#ff1010">e</text>
<text x="0" y="0" font-family="DejaVu Sans" font-weight="bold" font-size="12" fill="#ff1010" stroke="#ff1010" stroke-width="0.35" text-anchor="middle" transform="translate(423.9,79.4) scale(0.72,1)">&#8595;</text>
<text x="417.6" y="104.5" font-size="11.5" font-weight="bold" fill="#111111">t</text>
<text x="0" y="0" font-family="DejaVu Sans" font-weight="bold" font-size="12" fill="#111111" stroke="#111111" stroke-width="0.35" text-anchor="middle" transform="translate(424,105.2) scale(0.72,1)">&#8593;</text>
<text x="418.6" y="150" font-size="11.5" font-weight="bold" fill="#2a3cff">e</text>
<text x="0" y="0" font-family="DejaVu Sans" font-weight="bold" font-size="12" fill="#2a3cff" stroke="#2a3cff" stroke-width="0.35" text-anchor="middle" transform="translate(426.6,150.7) scale(0.72,1)">&#8593;</text>
<rect x="563.4" y="152.4" width="133" height="17.8" fill="#b8c7c4"/>
<polyline points="563.4,32.65 585.57,26.77 607.73,21.25 629.9,14.26" fill="none" stroke="#4433ff" stroke-width="1.4" stroke-linejoin="round" />
<circle cx="563.4" cy="32.65" r="1.45" fill="#4433ff"/>
<circle cx="585.57" cy="26.77" r="1.45" fill="#4433ff"/>
<circle cx="607.73" cy="21.25" r="1.45" fill="#4433ff"/>
<circle cx="629.9" cy="14.26" r="1.45" fill="#4433ff"/>
<polyline points="563.4,66.12 585.57,55.45 607.73,43.32 629.9,30.44" fill="none" stroke="#ff1010" stroke-width="1.4" stroke-linejoin="round" />
<circle cx="563.4" cy="66.12" r="1.45" fill="#ff1010"/>
<circle cx="585.57" cy="55.45" r="1.45" fill="#ff1010"/>
<circle cx="607.73" cy="43.32" r="1.45" fill="#ff1010"/>
<circle cx="629.9" cy="30.44" r="1.45" fill="#ff1010"/>
<polyline points="563.4,95.17 585.57,100.69 607.73,104.74 629.9,108.05 652.07,112.09 674.23,115.77 696.4,119.08" fill="none" stroke="#111111" stroke-width="1.4" stroke-linejoin="round" />
<circle cx="563.4" cy="95.17" r="1.45" fill="#111111"/>
<circle cx="585.57" cy="100.69" r="1.45" fill="#111111"/>
<circle cx="607.73" cy="104.74" r="1.45" fill="#111111"/>
<circle cx="629.9" cy="108.05" r="1.45" fill="#111111"/>
<circle cx="652.07" cy="112.09" r="1.45" fill="#111111"/>
<circle cx="674.23" cy="115.77" r="1.45" fill="#111111"/>
<circle cx="696.4" cy="119.08" r="1.45" fill="#111111"/>
<polyline points="563.4,134.16 585.57,147.03 607.73,158.8 629.9,167.63 637.21,170.2" fill="none" stroke="#2a3cff" stroke-width="1.4" stroke-linejoin="round" />
<circle cx="563.4" cy="134.16" r="1.45" fill="#2a3cff"/>
<circle cx="585.57" cy="147.03" r="1.45" fill="#2a3cff"/>
<circle cx="607.73" cy="158.8" r="1.45" fill="#2a3cff"/>
<circle cx="629.9" cy="167.63" r="1.45" fill="#2a3cff"/>
<line x1="574" y1="105.7" x2="574" y2="132.3" stroke="#718684" stroke-width="1.9" />
<path d="M574,97.7 L571.2,106.7 L576.8,106.7 Z" fill="#718684"/>
<path d="M574,140.3 L571.2,131.3 L576.8,131.3 Z" fill="#718684"/>
<rect x="563.4" y="4.7" width="133" height="165.5" fill="none" stroke="#3a3a3a" stroke-width="1.3"/>
<line x1="563.4" y1="170.2" x2="566.2" y2="170.2" stroke="#3a3a3a" stroke-width="1.1" />
<line x1="696.4" y1="170.2" x2="693.6" y2="170.2" stroke="#3a3a3a" stroke-width="1.1" />
<line x1="563.4" y1="161.01" x2="565.1" y2="161.01" stroke="#3a3a3a" stroke-width="1.1" />
<line x1="696.4" y1="161.01" x2="694.7" y2="161.01" stroke="#3a3a3a" stroke-width="1.1" />
<line x1="563.4" y1="151.81" x2="566.2" y2="151.81" stroke="#3a3a3a" stroke-width="1.1" />
<line x1="696.4" y1="151.81" x2="693.6" y2="151.81" stroke="#3a3a3a" stroke-width="1.1" />
<line x1="563.4" y1="142.62" x2="565.1" y2="142.62" stroke="#3a3a3a" stroke-width="1.1" />
<line x1="696.4" y1="142.62" x2="694.7" y2="142.62" stroke="#3a3a3a" stroke-width="1.1" />
<line x1="563.4" y1="133.42" x2="566.2" y2="133.42" stroke="#3a3a3a" stroke-width="1.1" />
<line x1="696.4" y1="133.42" x2="693.6" y2="133.42" stroke="#3a3a3a" stroke-width="1.1" />
<line x1="563.4" y1="124.23" x2="565.1" y2="124.23" stroke="#3a3a3a" stroke-width="1.1" />
<line x1="696.4" y1="124.23" x2="694.7" y2="124.23" stroke="#3a3a3a" stroke-width="1.1" />
<line x1="563.4" y1="115.03" x2="566.2" y2="115.03" stroke="#3a3a3a" stroke-width="1.1" />
<line x1="696.4" y1="115.03" x2="693.6" y2="115.03" stroke="#3a3a3a" stroke-width="1.1" />
<line x1="563.4" y1="105.84" x2="565.1" y2="105.84" stroke="#3a3a3a" stroke-width="1.1" />
<line x1="696.4" y1="105.84" x2="694.7" y2="105.84" stroke="#3a3a3a" stroke-width="1.1" />
<line x1="563.4" y1="96.64" x2="566.2" y2="96.64" stroke="#3a3a3a" stroke-width="1.1" />
<line x1="696.4" y1="96.64" x2="693.6" y2="96.64" stroke="#3a3a3a" stroke-width="1.1" />
<line x1="563.4" y1="87.45" x2="565.1" y2="87.45" stroke="#3a3a3a" stroke-width="1.1" />
<line x1="696.4" y1="87.45" x2="694.7" y2="87.45" stroke="#3a3a3a" stroke-width="1.1" />
<line x1="563.4" y1="78.26" x2="566.2" y2="78.26" stroke="#3a3a3a" stroke-width="1.1" />
<line x1="696.4" y1="78.26" x2="693.6" y2="78.26" stroke="#3a3a3a" stroke-width="1.1" />
<line x1="563.4" y1="69.06" x2="565.1" y2="69.06" stroke="#3a3a3a" stroke-width="1.1" />
<line x1="696.4" y1="69.06" x2="694.7" y2="69.06" stroke="#3a3a3a" stroke-width="1.1" />
<line x1="563.4" y1="59.87" x2="566.2" y2="59.87" stroke="#3a3a3a" stroke-width="1.1" />
<line x1="696.4" y1="59.87" x2="693.6" y2="59.87" stroke="#3a3a3a" stroke-width="1.1" />
<line x1="563.4" y1="50.67" x2="565.1" y2="50.67" stroke="#3a3a3a" stroke-width="1.1" />
<line x1="696.4" y1="50.67" x2="694.7" y2="50.67" stroke="#3a3a3a" stroke-width="1.1" />
<line x1="563.4" y1="41.48" x2="566.2" y2="41.48" stroke="#3a3a3a" stroke-width="1.1" />
<line x1="696.4" y1="41.48" x2="693.6" y2="41.48" stroke="#3a3a3a" stroke-width="1.1" />
<line x1="563.4" y1="32.28" x2="565.1" y2="32.28" stroke="#3a3a3a" stroke-width="1.1" />
<line x1="696.4" y1="32.28" x2="694.7" y2="32.28" stroke="#3a3a3a" stroke-width="1.1" />
<line x1="563.4" y1="23.09" x2="566.2" y2="23.09" stroke="#3a3a3a" stroke-width="1.1" />
<line x1="696.4" y1="23.09" x2="693.6" y2="23.09" stroke="#3a3a3a" stroke-width="1.1" />
<line x1="563.4" y1="13.89" x2="565.1" y2="13.89" stroke="#3a3a3a" stroke-width="1.1" />
<line x1="696.4" y1="13.89" x2="694.7" y2="13.89" stroke="#3a3a3a" stroke-width="1.1" />
<line x1="563.4" y1="4.7" x2="566.2" y2="4.7" stroke="#3a3a3a" stroke-width="1.1" />
<line x1="696.4" y1="4.7" x2="693.6" y2="4.7" stroke="#3a3a3a" stroke-width="1.1" />
<line x1="563.4" y1="170.2" x2="563.4" y2="167.4" stroke="#3a3a3a" stroke-width="1.1" />
<line x1="563.4" y1="4.7" x2="563.4" y2="7.5" stroke="#3a3a3a" stroke-width="1.1" />
<line x1="585.57" y1="170.2" x2="585.57" y2="167.4" stroke="#3a3a3a" stroke-width="1.1" />
<line x1="585.57" y1="4.7" x2="585.57" y2="7.5" stroke="#3a3a3a" stroke-width="1.1" />
<line x1="607.73" y1="170.2" x2="607.73" y2="167.4" stroke="#3a3a3a" stroke-width="1.1" />
<line x1="607.73" y1="4.7" x2="607.73" y2="7.5" stroke="#3a3a3a" stroke-width="1.1" />
<line x1="629.9" y1="170.2" x2="629.9" y2="167.4" stroke="#3a3a3a" stroke-width="1.1" />
<line x1="629.9" y1="4.7" x2="629.9" y2="7.5" stroke="#3a3a3a" stroke-width="1.1" />
<line x1="652.07" y1="170.2" x2="652.07" y2="167.4" stroke="#3a3a3a" stroke-width="1.1" />
<line x1="652.07" y1="4.7" x2="652.07" y2="7.5" stroke="#3a3a3a" stroke-width="1.1" />
<line x1="674.23" y1="170.2" x2="674.23" y2="167.4" stroke="#3a3a3a" stroke-width="1.1" />
<line x1="674.23" y1="4.7" x2="674.23" y2="7.5" stroke="#3a3a3a" stroke-width="1.1" />
<line x1="696.4" y1="170.2" x2="696.4" y2="167.4" stroke="#3a3a3a" stroke-width="1.1" />
<line x1="696.4" y1="4.7" x2="696.4" y2="7.5" stroke="#3a3a3a" stroke-width="1.1" />
<line x1="574.48" y1="170.2" x2="574.48" y2="168.5" stroke="#3a3a3a" stroke-width="1.1" />
<line x1="574.48" y1="4.7" x2="574.48" y2="6.4" stroke="#3a3a3a" stroke-width="1.1" />
<line x1="596.65" y1="170.2" x2="596.65" y2="168.5" stroke="#3a3a3a" stroke-width="1.1" />
<line x1="596.65" y1="4.7" x2="596.65" y2="6.4" stroke="#3a3a3a" stroke-width="1.1" />
<line x1="618.82" y1="170.2" x2="618.82" y2="168.5" stroke="#3a3a3a" stroke-width="1.1" />
<line x1="618.82" y1="4.7" x2="618.82" y2="6.4" stroke="#3a3a3a" stroke-width="1.1" />
<line x1="640.98" y1="170.2" x2="640.98" y2="168.5" stroke="#3a3a3a" stroke-width="1.1" />
<line x1="640.98" y1="4.7" x2="640.98" y2="6.4" stroke="#3a3a3a" stroke-width="1.1" />
<line x1="663.15" y1="170.2" x2="663.15" y2="168.5" stroke="#3a3a3a" stroke-width="1.1" />
<line x1="663.15" y1="4.7" x2="663.15" y2="6.4" stroke="#3a3a3a" stroke-width="1.1" />
<line x1="685.32" y1="170.2" x2="685.32" y2="168.5" stroke="#3a3a3a" stroke-width="1.1" />
<line x1="685.32" y1="4.7" x2="685.32" y2="6.4" stroke="#3a3a3a" stroke-width="1.1" />
<text x="562.2" y="174.2" font-size="10.2" text-anchor="end" font-weight="normal" fill="#1e1e1e" stroke="#1e1e1e" stroke-width="0.3" >-0.5</text>
<text x="562.2" y="155.81" font-size="10.2" text-anchor="end" font-weight="normal" fill="#1e1e1e" stroke="#1e1e1e" stroke-width="0.3" >0.0</text>
<text x="562.2" y="137.42" font-size="10.2" text-anchor="end" font-weight="normal" fill="#1e1e1e" stroke="#1e1e1e" stroke-width="0.3" >0.5</text>
<text x="562.2" y="119.03" font-size="10.2" text-anchor="end" font-weight="normal" fill="#1e1e1e" stroke="#1e1e1e" stroke-width="0.3" >1.0</text>
<text x="562.2" y="100.64" font-size="10.2" text-anchor="end" font-weight="normal" fill="#1e1e1e" stroke="#1e1e1e" stroke-width="0.3" >1.5</text>
<text x="562.2" y="82.26" font-size="10.2" text-anchor="end" font-weight="normal" fill="#1e1e1e" stroke="#1e1e1e" stroke-width="0.3" >2.0</text>
<text x="562.2" y="63.87" font-size="10.2" text-anchor="end" font-weight="normal" fill="#1e1e1e" stroke="#1e1e1e" stroke-width="0.3" >2.5</text>
<text x="562.2" y="45.48" font-size="10.2" text-anchor="end" font-weight="normal" fill="#1e1e1e" stroke="#1e1e1e" stroke-width="0.3" >3.0</text>
<text x="562.2" y="27.09" font-size="10.2" text-anchor="end" font-weight="normal" fill="#1e1e1e" stroke="#1e1e1e" stroke-width="0.3" >3.5</text>
<text x="562.2" y="8.7" font-size="10.2" text-anchor="end" font-weight="normal" fill="#1e1e1e" stroke="#1e1e1e" stroke-width="0.3" >4.0</text>
<text x="0" y="0" font-size="10.2" text-anchor="middle" fill="#1e1e1e" stroke="#1e1e1e" stroke-width="0.3" transform="translate(541.9,87) rotate(-90)">Energy (eV)</text>
<text x="563.4" y="180" font-size="10.2" text-anchor="middle" font-weight="normal" fill="#1e1e1e" stroke="#1e1e1e" stroke-width="0.3" >-2</text>
<text x="585.57" y="180" font-size="10.2" text-anchor="middle" font-weight="normal" fill="#1e1e1e" stroke="#1e1e1e" stroke-width="0.3" >-1</text>
<text x="607.73" y="180" font-size="10.2" text-anchor="middle" font-weight="normal" fill="#1e1e1e" stroke="#1e1e1e" stroke-width="0.3" >0</text>
<text x="629.9" y="180" font-size="10.2" text-anchor="middle" font-weight="normal" fill="#1e1e1e" stroke="#1e1e1e" stroke-width="0.3" >1</text>
<text x="652.07" y="180" font-size="10.2" text-anchor="middle" font-weight="normal" fill="#1e1e1e" stroke="#1e1e1e" stroke-width="0.3" >2</text>
<text x="674.23" y="180" font-size="10.2" text-anchor="middle" font-weight="normal" fill="#1e1e1e" stroke="#1e1e1e" stroke-width="0.3" >3</text>
<text x="696.4" y="180" font-size="10.2" text-anchor="middle" font-weight="normal" fill="#1e1e1e" stroke="#1e1e1e" stroke-width="0.3" >4</text>
<text x="609.5" y="192.2" font-size="11.5" fill="#1e1e1e" stroke="#1e1e1e" stroke-width="0.3">U<tspan font-size="8.6" dy="4.2">Mn</tspan><tspan dy="-4.2">(eV)</tspan></text>
<text x="640.2" y="20" font-size="11.4" fill="#1e1e1e" stroke="#1e1e1e" stroke-width="0.3">GaN:Mn<tspan font-size="7.6" dy="-5">3+</tspan></text>
<text x="676" y="98.3" font-size="11.6" text-anchor="start" font-weight="normal" fill="#1e1e1e" stroke="#1e1e1e" stroke-width="0.4">(d)</text>
<text x="575.7" y="122.8" font-size="8.0" text-anchor="start" font-weight="bold" fill="#111" stroke="#111" stroke-width="0.3" >1.4 eV</text>
<text x="609" y="29.5" font-size="11.5" font-weight="bold" fill="#4433ff">t</text>
<text x="0" y="0" font-family="DejaVu Sans" font-weight="bold" font-size="12" fill="#4433ff" stroke="#4433ff" stroke-width="0.35" text-anchor="middle" transform="translate(615.4,30.2) scale(0.72,1)">&#8595;</text>
<text x="608.6" y="51.5" font-size="11.5" font-weight="bold" fill="#ff1010">e</text>
<text x="0" y="0" font-family="DejaVu Sans" font-weight="bold" font-size="12" fill="#ff1010" stroke="#ff1010" stroke-width="0.35" text-anchor="middle" transform="translate(616.6,52.2) scale(0.72,1)">&#8595;</text>
<text x="609.5" y="103.4" font-size="11.5" font-weight="bold" fill="#111111">t</text>
<text x="0" y="0" font-family="DejaVu Sans" font-weight="bold" font-size="12" fill="#111111" stroke="#111111" stroke-width="0.35" text-anchor="middle" transform="translate(615.9,104.1) scale(0.72,1)">&#8593;</text>
<text x="611" y="159" font-size="11.5" font-weight="bold" fill="#2a3cff">e</text>
<text x="0" y="0" font-family="DejaVu Sans" font-weight="bold" font-size="12" fill="#2a3cff" stroke="#2a3cff" stroke-width="0.35" text-anchor="middle" transform="translate(619,159.7) scale(0.72,1)">&#8593;</text>
<path d="M112.6,216.8 H307.6 V233.84 H206.1 V284.98 H112.6 Z" fill="#bbbbbb"/>
<rect x="112.6" y="352.5" width="195" height="17.7" fill="#bbbbbb"/>
<rect x="112.6" y="216.8" width="195" height="153.4" fill="none" stroke="#3a3a3a" stroke-width="1.3"/>
<line x1="112.6" y1="370.2" x2="115.4" y2="370.2" stroke="#3a3a3a" stroke-width="1.1" />
<line x1="112.6" y1="361.68" x2="114.3" y2="361.68" stroke="#3a3a3a" stroke-width="1.1" />
<line x1="112.6" y1="353.16" x2="115.4" y2="353.16" stroke="#3a3a3a" stroke-width="1.1" />
<line x1="112.6" y1="344.63" x2="114.3" y2="344.63" stroke="#3a3a3a" stroke-width="1.1" />
<line x1="112.6" y1="336.11" x2="115.4" y2="336.11" stroke="#3a3a3a" stroke-width="1.1" />
<line x1="112.6" y1="327.59" x2="114.3" y2="327.59" stroke="#3a3a3a" stroke-width="1.1" />
<line x1="112.6" y1="319.07" x2="115.4" y2="319.07" stroke="#3a3a3a" stroke-width="1.1" />
<line x1="112.6" y1="310.54" x2="114.3" y2="310.54" stroke="#3a3a3a" stroke-width="1.1" />
<line x1="112.6" y1="302.02" x2="115.4" y2="302.02" stroke="#3a3a3a" stroke-width="1.1" />
<line x1="112.6" y1="293.5" x2="114.3" y2="293.5" stroke="#3a3a3a" stroke-width="1.1" />
<line x1="112.6" y1="284.98" x2="115.4" y2="284.98" stroke="#3a3a3a" stroke-width="1.1" />
<line x1="112.6" y1="276.46" x2="114.3" y2="276.46" stroke="#3a3a3a" stroke-width="1.1" />
<line x1="112.6" y1="267.93" x2="115.4" y2="267.93" stroke="#3a3a3a" stroke-width="1.1" />
<line x1="112.6" y1="259.41" x2="114.3" y2="259.41" stroke="#3a3a3a" stroke-width="1.1" />
<line x1="112.6" y1="250.89" x2="115.4" y2="250.89" stroke="#3a3a3a" stroke-width="1.1" />
<line x1="112.6" y1="242.37" x2="114.3" y2="242.37" stroke="#3a3a3a" stroke-width="1.1" />
<line x1="112.6" y1="233.84" x2="115.4" y2="233.84" stroke="#3a3a3a" stroke-width="1.1" />
<line x1="112.6" y1="225.32" x2="114.3" y2="225.32" stroke="#3a3a3a" stroke-width="1.1" />
<line x1="112.6" y1="216.8" x2="115.4" y2="216.8" stroke="#3a3a3a" stroke-width="1.1" />
<line x1="131.5" y1="370.2" x2="131.5" y2="367.4" stroke="#3a3a3a" stroke-width="1.1" />
<line x1="180.8" y1="370.2" x2="180.8" y2="367.4" stroke="#3a3a3a" stroke-width="1.1" />
<line x1="229.6" y1="370.2" x2="229.6" y2="367.4" stroke="#3a3a3a" stroke-width="1.1" />
<line x1="278.4" y1="370.2" x2="278.4" y2="367.4" stroke="#3a3a3a" stroke-width="1.1" />
<text x="111.3" y="373.6" font-size="9.5" text-anchor="end" font-weight="normal" fill="#1e1e1e" stroke="#1e1e1e" stroke-width="0.3" >-0.5</text>
<text x="111.3" y="356.56" font-size="9.5" text-anchor="end" font-weight="normal" fill="#1e1e1e" stroke="#1e1e1e" stroke-width="0.3" >0.0</text>
<text x="111.3" y="339.51" font-size="9.5" text-anchor="end" font-weight="normal" fill="#1e1e1e" stroke="#1e1e1e" stroke-width="0.3" >0.5</text>
<text x="111.3" y="322.47" font-size="9.5" text-anchor="end" font-weight="normal" fill="#1e1e1e" stroke="#1e1e1e" stroke-width="0.3" >1.0</text>
<text x="111.3" y="305.42" font-size="9.5" text-anchor="end" font-weight="normal" fill="#1e1e1e" stroke="#1e1e1e" stroke-width="0.3" >1.5</text>
<text x="111.3" y="288.38" font-size="9.5" text-anchor="end" font-weight="normal" fill="#1e1e1e" stroke="#1e1e1e" stroke-width="0.3" >2.0</text>
<text x="111.3" y="271.33" font-size="9.5" text-anchor="end" font-weight="normal" fill="#1e1e1e" stroke="#1e1e1e" stroke-width="0.3" >2.5</text>
<text x="111.3" y="254.29" font-size="9.5" text-anchor="end" font-weight="normal" fill="#1e1e1e" stroke="#1e1e1e" stroke-width="0.3" >3.0</text>
<text x="111.3" y="237.24" font-size="9.5" text-anchor="end" font-weight="normal" fill="#1e1e1e" stroke="#1e1e1e" stroke-width="0.3" >3.5</text>
<text x="111.3" y="220.2" font-size="9.5" text-anchor="end" font-weight="normal" fill="#1e1e1e" stroke="#1e1e1e" stroke-width="0.3" >4.0</text>
<text x="0" y="0" font-size="9.3" text-anchor="middle" fill="#1e1e1e" stroke="#1e1e1e" stroke-width="0.3" transform="translate(93.2,292.7) rotate(-90)">Energy (eV)</text>
<line x1="124.1" y1="295.2" x2="138.3" y2="295.2" stroke="#ff1010" stroke-width="2.7" stroke-linecap="round"/>
<text x="140.2" y="297.9" font-size="7.6" text-anchor="start" font-weight="bold" fill="#ff1010" stroke="#ff1010" stroke-width="0.3">1.7</text>
<line x1="124.5" y1="267.93" x2="138.8" y2="267.93" stroke="#4433ff" stroke-width="2.7" stroke-linecap="round"/>
<text x="140.3" y="270.63" font-size="7.6" text-anchor="start" font-weight="bold" fill="#4433ff" stroke="#4433ff" stroke-width="0.3">2.5</text>
<line x1="149.8" y1="267.93" x2="171.5" y2="267.93" stroke="#4433ff" stroke-width="1.3" stroke-dasharray="6,4"/>
<line x1="172.7" y1="267.93" x2="187.4" y2="267.93" stroke="#4433ff" stroke-width="2.7" stroke-linecap="round"/>
<text x="188.8" y="270.63" font-size="7.6" text-anchor="start" font-weight="bold" fill="#4433ff" stroke="#4433ff" stroke-width="0.3">2.5</text>
<line x1="173.2" y1="257.71" x2="187.4" y2="257.71" stroke="#ff1010" stroke-width="2.7" stroke-linecap="round"/>
<text x="188.8" y="260.41" font-size="7.6" text-anchor="start" font-weight="bold" fill="#ff1010" stroke="#ff1010" stroke-width="0.3">2.8</text>
<line x1="143.2" y1="290" x2="172" y2="258.5" stroke="#ff1010" stroke-width="1.3" stroke-dasharray="6,3.5"/>
<line x1="222.2" y1="273.05" x2="236.4" y2="273.05" stroke="#ff1010" stroke-width="2.7" stroke-linecap="round"/>
<text x="238" y="275.75" font-size="7.6" text-anchor="start" font-weight="bold" fill="#ff1010" stroke="#ff1010" stroke-width="0.3">2.35</text>
<line x1="222.2" y1="244.07" x2="236.4" y2="244.07" stroke="#4433ff" stroke-width="2.7" stroke-linecap="round"/>
<text x="238" y="246.77" font-size="7.6" text-anchor="start" font-weight="bold" fill="#4433ff" stroke="#4433ff" stroke-width="0.3">3.2</text>
<line x1="247.6" y1="244.07" x2="268.9" y2="244.07" stroke="#4433ff" stroke-width="1.3" stroke-dasharray="6,4.5"/>
<line x1="270.1" y1="244.07" x2="284.6" y2="244.07" stroke="#4433ff" stroke-width="2.7" stroke-linecap="round"/>
<text x="286" y="246.77" font-size="7.6" text-anchor="start" font-weight="bold" fill="#4433ff" stroke="#4433ff" stroke-width="0.3">3.2</text>
<line x1="271.2" y1="237.25" x2="285.3" y2="237.25" stroke="#ff1010" stroke-width="2.7" stroke-linecap="round"/>
<text x="286.6" y="239.05" font-size="7.6" text-anchor="start" font-weight="bold" fill="#ff1010" stroke="#ff1010" stroke-width="0.3">3.4</text>
<line x1="241.8" y1="267" x2="270" y2="237.5" stroke="#ff1010" stroke-width="1.3" stroke-dasharray="6,3.5"/>
<line x1="123" y1="340.2" x2="139.8" y2="340.2" stroke="#111111" stroke-width="2.1" />
<line x1="125.6" y1="343.5" x2="125.6" y2="331.6" stroke="#111111" stroke-width="1.9" />
<path d="M125.6,327 L122.7,332.1 L128.5,332.1 Z" fill="#111111"/>
<line x1="131.3" y1="343.5" x2="131.3" y2="331.6" stroke="#111111" stroke-width="1.9" />
<path d="M131.3,327 L128.4,332.1 L134.2,332.1 Z" fill="#111111"/>
<line x1="137" y1="343.5" x2="137" y2="331.6" stroke="#111111" stroke-width="1.9" />
<path d="M137,327 L134.1,332.1 L139.9,332.1 Z" fill="#111111"/>
<text x="140.8" y="340.6" font-size="7.6" text-anchor="start" font-weight="bold" fill="#111111" stroke="#111111" stroke-width="0.3">0.4</text>
<line x1="171.5" y1="348" x2="188.8" y2="348" stroke="#111111" stroke-width="2.1" />
<line x1="174.2" y1="352.4" x2="174.2" y2="340.6" stroke="#111111" stroke-width="1.9" />
<path d="M174.2,336 L171.3,341.1 L177.1,341.1 Z" fill="#111111"/>
<line x1="179.9" y1="352.4" x2="179.9" y2="340.6" stroke="#111111" stroke-width="1.9" />
<path d="M179.9,336 L177,341.1 L182.8,341.1 Z" fill="#111111"/>
<line x1="185.7" y1="352.4" x2="185.7" y2="340.6" stroke="#111111" stroke-width="1.9" />
<path d="M185.7,336 L182.8,341.1 L188.6,341.1 Z" fill="#111111"/>
<text x="189.8" y="350.6" font-size="7.6" text-anchor="start" font-weight="bold" fill="#111111" stroke="#111111" stroke-width="0.3">0.15</text>
<line x1="148.3" y1="342.5" x2="171.5" y2="348.2" stroke="#111111" stroke-width="1.3" stroke-dasharray="5.5,4.8"/>
<line x1="220.6" y1="335.7" x2="238.4" y2="335.7" stroke="#111111" stroke-width="2.1" />
<line x1="223.1" y1="340.9" x2="223.1" y2="329.1" stroke="#111111" stroke-width="1.9" />
<path d="M223.1,324.5 L220.2,329.6 L226,329.6 Z" fill="#111111"/>
<line x1="229.1" y1="340.9" x2="229.1" y2="329.1" stroke="#111111" stroke-width="1.9" />
<path d="M229.1,324.5 L226.2,329.6 L232,329.6 Z" fill="#111111"/>
<line x1="235.1" y1="340.9" x2="235.1" y2="329.1" stroke="#111111" stroke-width="1.9" />
<path d="M235.1,324.5 L232.2,329.6 L238,329.6 Z" fill="#111111"/>
<text x="239" y="337.5" font-size="7.6" text-anchor="start" font-weight="bold" fill="#111111" stroke="#111111" stroke-width="0.3">0.5</text>
<line x1="268" y1="346.4" x2="287" y2="346.4" stroke="#111111" stroke-width="2.1" />
<line x1="272.1" y1="351.3" x2="272.1" y2="339.8" stroke="#111111" stroke-width="1.9" />
<path d="M272.1,335.2 L269.2,340.3 L275,340.3 Z" fill="#111111"/>
<line x1="278" y1="351.3" x2="278" y2="339.8" stroke="#111111" stroke-width="1.9" />
<path d="M278,335.2 L275.1,340.3 L280.9,340.3 Z" fill="#111111"/>
<line x1="283.9" y1="351.3" x2="283.9" y2="339.8" stroke="#111111" stroke-width="1.9" />
<path d="M283.9,335.2 L281,340.3 L286.8,340.3 Z" fill="#111111"/>
<text x="287.6" y="349" font-size="7.6" text-anchor="start" font-weight="bold" fill="#111111" stroke="#111111" stroke-width="0.3">0.2</text>
<line x1="250" y1="338.8" x2="268.5" y2="346.2" stroke="#111111" stroke-width="1.3" stroke-dasharray="5.5,4.8"/>
<text x="126.3" y="226.3" font-size="9.5" text-anchor="start" font-weight="normal" fill="#1e1e1e" stroke="#1e1e1e" stroke-width="0.3" >U(N)=0</text>
<text x="176.9" y="230.9" font-size="10.8" fill="#1e1e1e" stroke="#1e1e1e" stroke-width="0.3">GaN:Fe<tspan font-size="8" dy="-5.6">3+</tspan></text>
<text x="263" y="226.1" font-size="9.5" text-anchor="start" font-weight="normal" fill="#1e1e1e" stroke="#1e1e1e" stroke-width="0.3" >U(N)=5</text>
<text x="288.6" y="309.3" font-size="10.8" text-anchor="start" font-weight="normal" fill="#1e1e1e" stroke="#1e1e1e" stroke-width="0.3" >(e)</text>
<text x="114.3" y="381" font-size="10.2" text-anchor="start" font-weight="normal" fill="#1e1e1e" stroke="#1e1e1e" stroke-width="0.3" >U(Fe)=0</text>
<text x="162.9" y="381" font-size="10.2" text-anchor="start" font-weight="normal" fill="#1e1e1e" stroke="#1e1e1e" stroke-width="0.3" >U(Fe)=5</text>
<text x="217" y="381" font-size="10.2" text-anchor="start" font-weight="normal" fill="#1e1e1e" stroke="#1e1e1e" stroke-width="0.3" >U(Fe)=0</text>
<text x="265" y="381" font-size="10.2" text-anchor="start" font-weight="normal" fill="#1e1e1e" stroke="#1e1e1e" stroke-width="0.3" >U(Fe)=5</text>
<path d="M353.2,218.3 H546 V235.18 H446.7 V285.81 H353.2 Z" fill="#bbbbbb"/>
<rect x="353.2" y="352.8" width="192.8" height="17.4" fill="#bbbbbb"/>
<rect x="353.2" y="218.3" width="192.8" height="151.9" fill="none" stroke="#3a3a3a" stroke-width="1.3"/>
<line x1="353.2" y1="370.2" x2="356" y2="370.2" stroke="#3a3a3a" stroke-width="1.1" />
<line x1="353.2" y1="361.76" x2="354.9" y2="361.76" stroke="#3a3a3a" stroke-width="1.1" />
<line x1="353.2" y1="353.32" x2="356" y2="353.32" stroke="#3a3a3a" stroke-width="1.1" />
<line x1="353.2" y1="344.88" x2="354.9" y2="344.88" stroke="#3a3a3a" stroke-width="1.1" />
<line x1="353.2" y1="336.44" x2="356" y2="336.44" stroke="#3a3a3a" stroke-width="1.1" />
<line x1="353.2" y1="328.01" x2="354.9" y2="328.01" stroke="#3a3a3a" stroke-width="1.1" />
<line x1="353.2" y1="319.57" x2="356" y2="319.57" stroke="#3a3a3a" stroke-width="1.1" />
<line x1="353.2" y1="311.13" x2="354.9" y2="311.13" stroke="#3a3a3a" stroke-width="1.1" />
<line x1="353.2" y1="302.69" x2="356" y2="302.69" stroke="#3a3a3a" stroke-width="1.1" />
<line x1="353.2" y1="294.25" x2="354.9" y2="294.25" stroke="#3a3a3a" stroke-width="1.1" />
<line x1="353.2" y1="285.81" x2="356" y2="285.81" stroke="#3a3a3a" stroke-width="1.1" />
<line x1="353.2" y1="277.37" x2="354.9" y2="277.37" stroke="#3a3a3a" stroke-width="1.1" />
<line x1="353.2" y1="268.93" x2="356" y2="268.93" stroke="#3a3a3a" stroke-width="1.1" />
<line x1="353.2" y1="260.49" x2="354.9" y2="260.49" stroke="#3a3a3a" stroke-width="1.1" />
<line x1="353.2" y1="252.06" x2="356" y2="252.06" stroke="#3a3a3a" stroke-width="1.1" />
<line x1="353.2" y1="243.62" x2="354.9" y2="243.62" stroke="#3a3a3a" stroke-width="1.1" />
<line x1="353.2" y1="235.18" x2="356" y2="235.18" stroke="#3a3a3a" stroke-width="1.1" />
<line x1="353.2" y1="226.74" x2="354.9" y2="226.74" stroke="#3a3a3a" stroke-width="1.1" />
<line x1="353.2" y1="218.3" x2="356" y2="218.3" stroke="#3a3a3a" stroke-width="1.1" />
<line x1="372.4" y1="370.2" x2="372.4" y2="367.4" stroke="#3a3a3a" stroke-width="1.1" />
<line x1="420.5" y1="370.2" x2="420.5" y2="367.4" stroke="#3a3a3a" stroke-width="1.1" />
<line x1="468.2" y1="370.2" x2="468.2" y2="367.4" stroke="#3a3a3a" stroke-width="1.1" />
<line x1="517.2" y1="370.2" x2="517.2" y2="367.4" stroke="#3a3a3a" stroke-width="1.1" />
<text x="352" y="373.6" font-size="9.5" text-anchor="end" font-weight="normal" fill="#1e1e1e" stroke="#1e1e1e" stroke-width="0.3" >-0.5</text>
<text x="352" y="356.72" font-size="9.5" text-anchor="end" font-weight="normal" fill="#1e1e1e" stroke="#1e1e1e" stroke-width="0.3" >0.0</text>
<text x="352" y="339.84" font-size="9.5" text-anchor="end" font-weight="normal" fill="#1e1e1e" stroke="#1e1e1e" stroke-width="0.3" >0.5</text>
<text x="352" y="322.97" font-size="9.5" text-anchor="end" font-weight="normal" fill="#1e1e1e" stroke="#1e1e1e" stroke-width="0.3" >1.0</text>
<text x="352" y="306.09" font-size="9.5" text-anchor="end" font-weight="normal" fill="#1e1e1e" stroke="#1e1e1e" stroke-width="0.3" >1.5</text>
<text x="352" y="289.21" font-size="9.5" text-anchor="end" font-weight="normal" fill="#1e1e1e" stroke="#1e1e1e" stroke-width="0.3" >2.0</text>
<text x="352" y="272.33" font-size="9.5" text-anchor="end" font-weight="normal" fill="#1e1e1e" stroke="#1e1e1e" stroke-width="0.3" >2.5</text>
<text x="352" y="255.46" font-size="9.5" text-anchor="end" font-weight="normal" fill="#1e1e1e" stroke="#1e1e1e" stroke-width="0.3" >3.0</text>
<text x="352" y="238.58" font-size="9.5" text-anchor="end" font-weight="normal" fill="#1e1e1e" stroke="#1e1e1e" stroke-width="0.3" >3.5</text>
<text x="352" y="221.7" font-size="9.5" text-anchor="end" font-weight="normal" fill="#1e1e1e" stroke="#1e1e1e" stroke-width="0.3" >4.0</text>
<line x1="365.2" y1="231.8" x2="379" y2="231.8" stroke="#4433ff" stroke-width="2.7" stroke-linecap="round"/>
<text x="382.3" y="234.5" font-size="7.6" text-anchor="start" font-weight="bold" fill="#4433ff" stroke="#4433ff" stroke-width="0.3">3.6</text>
<line x1="365.2" y1="255.43" x2="379" y2="255.43" stroke="#ff1010" stroke-width="2.7" stroke-linecap="round"/>
<text x="381.2" y="258.13" font-size="7.6" text-anchor="start" font-weight="bold" fill="#ff1010" stroke="#ff1010" stroke-width="0.3">2.9</text>
<line x1="461.7" y1="228.43" x2="475.4" y2="228.43" stroke="#ff1010" stroke-width="2.7" stroke-linecap="round"/>
<text x="477" y="231.13" font-size="7.6" text-anchor="start" font-weight="bold" fill="#ff1010" stroke="#ff1010" stroke-width="0.3">3.7</text>
<line x1="364.1" y1="309.44" x2="381.6" y2="309.44" stroke="#111111" stroke-width="2.1" />
<line x1="368.2" y1="315.04" x2="368.2" y2="303.94" stroke="#111111" stroke-width="1.9" />
<path d="M368.2,299.14 L365.4,304.44 L371,304.44 Z" fill="#111111"/>
<line x1="374.3" y1="315.04" x2="374.3" y2="303.94" stroke="#111111" stroke-width="1.9" />
<path d="M374.3,299.14 L371.5,304.44 L377.1,304.44 Z" fill="#111111"/>
<text x="381.8" y="312.14" font-size="7.6" text-anchor="start" font-weight="bold" fill="#111111" stroke="#111111" stroke-width="0.3">1.3</text>
<line x1="412.6" y1="326.32" x2="429.6" y2="326.32" stroke="#111111" stroke-width="2.1" />
<line x1="416.7" y1="331.92" x2="416.7" y2="320.82" stroke="#111111" stroke-width="1.9" />
<path d="M416.7,316.02 L413.9,321.32 L419.5,321.32 Z" fill="#111111"/>
<line x1="423.2" y1="331.92" x2="423.2" y2="320.82" stroke="#111111" stroke-width="1.9" />
<path d="M423.2,316.02 L420.4,321.32 L426,321.32 Z" fill="#111111"/>
<text x="430" y="329.02" font-size="7.6" text-anchor="start" font-weight="bold" fill="#111111" stroke="#111111" stroke-width="0.3">0.8</text>
<line x1="387.5" y1="313.8" x2="412.6" y2="325.8" stroke="#111111" stroke-width="1.3" stroke-dasharray="5.5,4.5"/>
<line x1="364.3" y1="360.07" x2="379.9" y2="360.07" stroke="#2a3cff" stroke-width="2.1" />
<line x1="368.7" y1="365.67" x2="368.7" y2="354.57" stroke="#2a3cff" stroke-width="1.9" />
<path d="M368.7,349.77 L365.9,355.07 L371.5,355.07 Z" fill="#2a3cff"/>
<line x1="375.1" y1="365.67" x2="375.1" y2="354.57" stroke="#2a3cff" stroke-width="1.9" />
<path d="M375.1,349.77 L372.3,355.07 L377.9,355.07 Z" fill="#2a3cff"/>
<text x="380.3" y="362.77" font-size="7.6" text-anchor="start" font-weight="bold" fill="#2a3cff" stroke="#2a3cff" stroke-width="0.3">-0.2</text>
<line x1="461" y1="295.94" x2="477.7" y2="295.94" stroke="#8a8a8a" stroke-width="2.1" />
<line x1="470.9" y1="301.54" x2="470.9" y2="290.44" stroke="#8a8a8a" stroke-width="1.9" />
<path d="M470.9,285.64 L468.1,290.94 L473.7,290.94 Z" fill="#8a8a8a"/>
<text x="478" y="296.44" font-size="7.6" text-anchor="start" font-weight="bold" fill="#8a8a8a" stroke="#8a8a8a" stroke-width="0.3">1.7</text>
<line x1="461" y1="306.06" x2="477.7" y2="306.06" stroke="#111111" stroke-width="2.1" />
<line x1="466.1" y1="311.66" x2="466.1" y2="300.56" stroke="#111111" stroke-width="1.9" />
<path d="M466.1,295.76 L463.3,301.06 L468.9,301.06 Z" fill="#111111"/>
<text x="478" y="307.66" font-size="7.6" text-anchor="start" font-weight="bold" fill="#111111" stroke="#111111" stroke-width="0.3">1.4</text>
<line x1="508.6" y1="312.82" x2="525.6" y2="312.82" stroke="#8a8a8a" stroke-width="2.1" />
<line x1="518" y1="318.42" x2="518" y2="307.32" stroke="#8a8a8a" stroke-width="1.9" />
<path d="M518,302.52 L515.2,307.82 L520.8,307.82 Z" fill="#8a8a8a"/>
<text x="526" y="315.52" font-size="7.6" text-anchor="start" font-weight="bold" fill="#8a8a8a" stroke="#8a8a8a" stroke-width="0.3">1.2</text>
<line x1="508.6" y1="336.44" x2="525.6" y2="336.44" stroke="#111111" stroke-width="2.1" />
<line x1="517.2" y1="342.04" x2="517.2" y2="330.94" stroke="#111111" stroke-width="1.9" />
<path d="M517.2,326.14 L514.4,331.44 L520,331.44 Z" fill="#111111"/>
<text x="526" y="339.14" font-size="7.6" text-anchor="start" font-weight="bold" fill="#111111" stroke="#111111" stroke-width="0.3">0.5</text>
<line x1="460.8" y1="346.57" x2="476.5" y2="346.57" stroke="#2a3cff" stroke-width="2.1" />
<line x1="465" y1="352.17" x2="465" y2="341.07" stroke="#2a3cff" stroke-width="1.9" />
<path d="M465,336.27 L462.2,341.57 L467.8,341.57 Z" fill="#2a3cff"/>
<line x1="471.2" y1="352.17" x2="471.2" y2="341.07" stroke="#2a3cff" stroke-width="1.9" />
<path d="M471.2,336.27 L468.4,341.57 L474,341.57 Z" fill="#2a3cff"/>
<text x="476.8" y="349.27" font-size="7.6" text-anchor="start" font-weight="bold" fill="#2a3cff" stroke="#2a3cff" stroke-width="0.3">0.2</text>
<line x1="484" y1="300.8" x2="508.6" y2="312.8" stroke="#8a8a8a" stroke-width="1.3" stroke-dasharray="6,5"/>
<line x1="482.6" y1="312.2" x2="508.6" y2="336.4" stroke="#111111" stroke-width="1.3" stroke-dasharray="6.5,5"/>
<text x="0" y="0" font-size="9.4" text-anchor="middle" fill="#1e1e1e" stroke="#1e1e1e" stroke-width="0.3" transform="translate(333.4,293.1) rotate(-90)">Energy (eV)</text>
<text x="367.1" y="227" font-size="9.5" text-anchor="start" font-weight="normal" fill="#1e1e1e" stroke="#1e1e1e" stroke-width="0.3" >U(N)=0</text>
<text x="411.1" y="232.3" font-size="10.6" fill="#1e1e1e" stroke="#1e1e1e" stroke-width="0.3">GaN:Mn<tspan font-size="8" dy="-5.6">3+</tspan></text>
<text x="501.9" y="226.8" font-size="9.5" text-anchor="start" font-weight="normal" fill="#1e1e1e" stroke="#1e1e1e" stroke-width="0.3" >U(N)=5</text>
<text x="530.6" y="287.3" font-size="10.2" text-anchor="start" font-weight="normal" fill="#1e1e1e" stroke="#1e1e1e" stroke-width="0.3" >(f)</text>
<text x="353.7" y="381.2" font-size="10.1" text-anchor="start" font-weight="normal" fill="#1e1e1e" stroke="#1e1e1e" stroke-width="0.3" >U(Mn)=0</text>
<text x="402" y="381.2" font-size="10.1" text-anchor="start" font-weight="normal" fill="#1e1e1e" stroke="#1e1e1e" stroke-width="0.3" >U(Mn)=5</text>
<text x="454.3" y="381.2" font-size="10.1" text-anchor="start" font-weight="normal" fill="#1e1e1e" stroke="#1e1e1e" stroke-width="0.3" >U(Mn)=0</text>
<text x="502.6" y="381.2" font-size="10.1" text-anchor="start" font-weight="normal" fill="#1e1e1e" stroke="#1e1e1e" stroke-width="0.3" >U(Mn)=5</text>
</svg></body></html>
